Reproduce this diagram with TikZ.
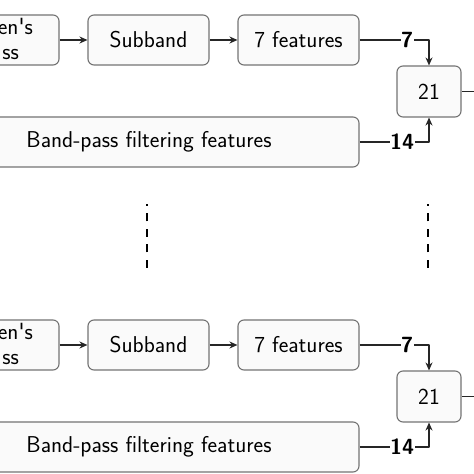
\documentclass[tikz,border=0pt]{standalone}
\usetikzlibrary{arrows.meta}
\definecolor{boxfill}{rgb}{0.98,0.98,0.98}
\definecolor{boxline}{rgb}{0.45,0.45,0.45}
\definecolor{wirecol}{rgb}{0.15,0.15,0.15}
\begin{document}
\begin{tikzpicture}[>={Stealth[length=8bp,width=7bp]},line join=bevel,
  font=\sffamily\fontsize{23}{25}\selectfont,
  blockbox/.style={draw=boxline,fill=boxfill,line width=1.1bp,rounded corners=6bp,
    minimum height=50bp,inner sep=0pt},
  wire/.style={draw=wirecol,line width=1.1bp},
  cnt/.style={fill=white,inner sep=0.5bp,font=\sffamily\bfseries\fontsize{22}{25}\selectfont},
  gap/.style={draw=black,line width=1.3bp,dash pattern=on 8bp off 7.5bp}]
\useasboundingbox (0bp,0bp) rectangle (474bp,474bp);
\clip (0bp,0bp) rectangle (474bp,474bp);
%% first branch
  \node (pre1) at (-10.5bp,434bp) [blockbox,minimum width=139bp] {};
  \node (pre1a) at (33bp,439bp) [anchor=base east,inner sep=0pt] {en\textquotesingle s};
  \node (pre1b) at (19bp,414bp) [anchor=base east,inner sep=0pt] {ss};
  \node (sub1) at (148.5bp,434bp) [blockbox,minimum width=121bp] {Subband};
  \node (feat1) at (298.5bp,434bp) [blockbox,minimum width=121bp] {7 features};
  \node (sum1) at (429bp,382.5bp) [blockbox,minimum width=64bp,minimum height=51bp] {21};
  \node (band1) at (149bp,332bp) [blockbox,minimum width=420bp] {Band-pass filtering features};
  \coordinate (out1) at (490bp,382.5bp);
  \draw [wire,->] (pre1) -- (sub1);
  \draw [wire,->] (sub1) -- (feat1);
  \draw [wire,->] (feat1.east) -| node [cnt,pos=0.343] {7} (sum1.north);
  \draw [wire,->] (band1.east) -| node [cnt,pos=0.307] {14} (sum1.south);
  \draw [wire] (sum1) -- (out1);
%% dots between branches
  \draw [gap] (147bp,206bp) -- (147bp,270bp);
  \draw [gap] (428bp,206bp) -- (428bp,270bp);
%% last branch
  \node (pre2) at (-10.5bp,129bp) [blockbox,minimum width=139bp] {};
  \node (pre2a) at (33bp,134bp) [anchor=base east,inner sep=0pt] {en\textquotesingle s};
  \node (pre2b) at (19bp,109bp) [anchor=base east,inner sep=0pt] {ss};
  \node (sub2) at (148.5bp,129bp) [blockbox,minimum width=121bp] {Subband};
  \node (feat2) at (298.5bp,129bp) [blockbox,minimum width=121bp] {7 features};
  \node (sum2) at (429bp,77.5bp) [blockbox,minimum width=64bp,minimum height=51bp] {21};
  \node (band2) at (149bp,27bp) [blockbox,minimum width=420bp] {Band-pass filtering features};
  \coordinate (out2) at (490bp,77.5bp);
  \draw [wire,->] (pre2) -- (sub2);
  \draw [wire,->] (sub2) -- (feat2);
  \draw [wire,->] (feat2.east) -| node [cnt,pos=0.343] {7} (sum2.north);
  \draw [wire,->] (band2.east) -| node [cnt,pos=0.307] {14} (sum2.south);
  \draw [wire] (sum2) -- (out2);
%
\end{tikzpicture}
\end{document}
